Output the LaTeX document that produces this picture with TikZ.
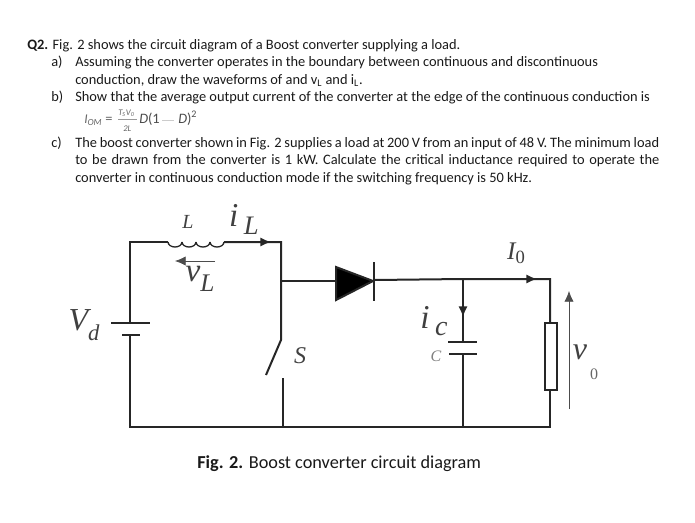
\documentclass[tikz,border=0pt]{standalone}
\usepackage{fontspec}
\setmainfont{Carlito}
\newfontfamily\labfont{Liberation Serif}
\usetikzlibrary{arrows.meta}
\begin{document}
\begin{tikzpicture}[x=.75pt,y=-.75pt]
\tikzset{
    wire/.style={line width=1.5pt, color=black!85},
    thin wire/.style={line width=.6pt, color=black!70},
    flow/.style={-{Latex[length=8pt,width=7pt]}},
    textline/.style={anchor=base west, inner sep=0pt, font=\fontsize{10.8}{12}\selectfont, color=black!90},
    lab/.style={inner sep=0pt, color=black!75, font=\labfont\itshape\fontsize{#1}{#1}\selectfont},
    lab/.default=16}
\def\just#1{\makebox[438pt][s]{#1}}
\def\subl#1#2#3{\raisebox{-#2pt}{\fontsize{#1}{#1}\selectfont #3}}
\useasboundingbox (0,0) rectangle (695,522);

% question text
\node[textline] (qtwo) at (27,49) {\textbf{Q2.} Fig. 2 shows the circuit diagram of a Boost converter supplying a load.};
\node[textline] (parta) at (51,66) {a)};
\node[textline] (partai) at (75,66) {Assuming the converter operates in the boundary between continuous and discontinuous};
\node[textline] (partaii) at (75,84) {conduction, draw the waveforms of and v\textsubscript{L} and i\textsubscript{L}.};
\node[textline] (partb) at (51,101) {b)};
\node[textline] (partbi) at (75,101) {Show that the average output current of the converter at the edge of the continuous conduction is};
\node[textline] (partc) at (51,147) {c)};
\node[textline] (partci) at (75,147) {\just{The boost converter shown in Fig. 2 supplies a load at 200 V from an input of 48 V. The minimum load}};
\node[textline] (partcii) at (75,164) {\just{to be drawn from the converter is 1 kW. Calculate the critical inductance required to operate the}};
\node[textline] (partciii) at (75,182) {converter in continuous conduction mode if the switching frequency is 50 kHz.};

% formula
\node[textline, color=black!60, font=\itshape\fontsize{10}{11}\selectfont] (ion) at (84,123) {I\textsubscript{OM}};
\node[textline, color=black!60] (eq) at (105,123) {=};
\node[textline, color=black!60, font=\itshape\fontsize{6.5}{7}\selectfont] (fracup) at (118,115) {T\textsubscript{S}V\textsubscript{0}};
\node[textline, color=black!60, font=\itshape\fontsize{6.5}{7}\selectfont] (fracdn) at (123,131) {2L};
\draw[black!40, line width=.4pt] (118,119)coordinate(fl)--(137,119)coordinate(fr);
\node[textline, color=black!70] (dpart) at (139,123) {\textit{D}(1};
\node[textline, color=black!70] (dpartb) at (178,123) {\textit{D})\textsuperscript{2}};
\draw[black!20, line width=.5pt] (162,120)coordinate(ml)--(174,120)coordinate(mr);

% junctions
\path (130,242)coordinate(TL);
\path (168,242)coordinate(LA);
\path (224,242)coordinate(LB);
\path (281,242)coordinate(TM);
\path (281,281)coordinate(DJ);
\path (281,340)coordinate(SA);
\path (266,375)coordinate(SB);
\path (283,378)coordinate(SC);
\path (283,427)coordinate(BM);
\path (130,427)coordinate(BL);
\path (130,323)coordinate(VA);
\path (130,335)coordinate(VB);
\path (336,281)coordinate(DA);
\path (374,280)coordinate(DK);
\path (463,279)coordinate(CJ);
\path (463,342)coordinate(CA);
\path (463,354)coordinate(CB);
\path (463,427)coordinate(CD);
\path (550,279)coordinate(TR);
\path (550,323)coordinate(RA);
\path (550,390)coordinate(RB);
\path (550,427)coordinate(BR);

% wires
\draw[wire] (LA)--(TL)--(VA);
\draw[wire] (VB)--(BL)--(BM);
\draw[wire] (LB)--(TM)--(SA)--(SB);
\draw[wire] (SC)--(BM)--(CD)--(BR)--(RB);
\draw[wire] (DJ)--(DA);
\draw[wire] (DK)--(CJ)--(TR)--(RA);
\draw[wire] (CJ)--(CA);
\draw[wire] (CB)--(CD);

% inductor
\foreach \x in {0,1,2,3}{
    \draw[wire, line width=1pt] (168+\x*14,242)arc(180:0:7 and 5);
}

% arrows on the wires
\draw[wire, flow] (LB)--(271,242)coordinate(IL);
\draw[wire, flow] (CJ)--(537,279)coordinate(IO);
\draw[wire, flow] (CJ)--(463,317)coordinate(IC);

% sources and parts
\draw[wire] (111,323)--(150,323);
\draw[wire] (122,335)--(140,335);
\draw[wire] (448,342)--(477,342);
\draw[wire] (449,354)--(477,354);
\draw[wire, fill=black] (DA)++(0,-14)--(373,281)--(336,300)--cycle;
\draw[wire] (374,262)--(374,301);
\draw[wire, fill=white] (545,323) rectangle (557,390);

% thin arrows
\draw[thin wire, flow] (215,261)coordinate(VLA)--(175,261)coordinate(VLB);
\draw[thin wire, flow] (569,409)coordinate(VOA)--(569,291)coordinate(VOB);

% labels
\node[lab=15] (lL) at (188,222) {L};
\node[lab=25] (liL) at (244,219) {i\,\subl{20}{6}{L}};
\node[lab=25] (lvL) at (200,279) {v\subl{19}{7}{L}};
\node[lab=24] (lVd) at (84,325) {V\subl{17}{7}{d}};
\node[lab=18] (lS) at (300,356) {S};
\node[lab=25] (liC) at (434,321) {i\,\subl{21}{5}{c}};
\node[lab=12, color=black!50] (lC) at (436,356) {C};
\node[lab=19] (lIO) at (516,253) {I\subl{14}{3}{\upshape 0}};
\node[lab=24] (lvo) at (580,352) {v};
\node[lab=12, color=black!60, font=\labfont\fontsize{12}{12}\selectfont] (lvz) at (594,374) {0};

% caption
\node[textline, font=\fontsize{13.7}{15}\selectfont] (capt) at (197,468) {\textbf{Fig. 2.} Boost converter circuit diagram};
\end{tikzpicture}
\end{document}
